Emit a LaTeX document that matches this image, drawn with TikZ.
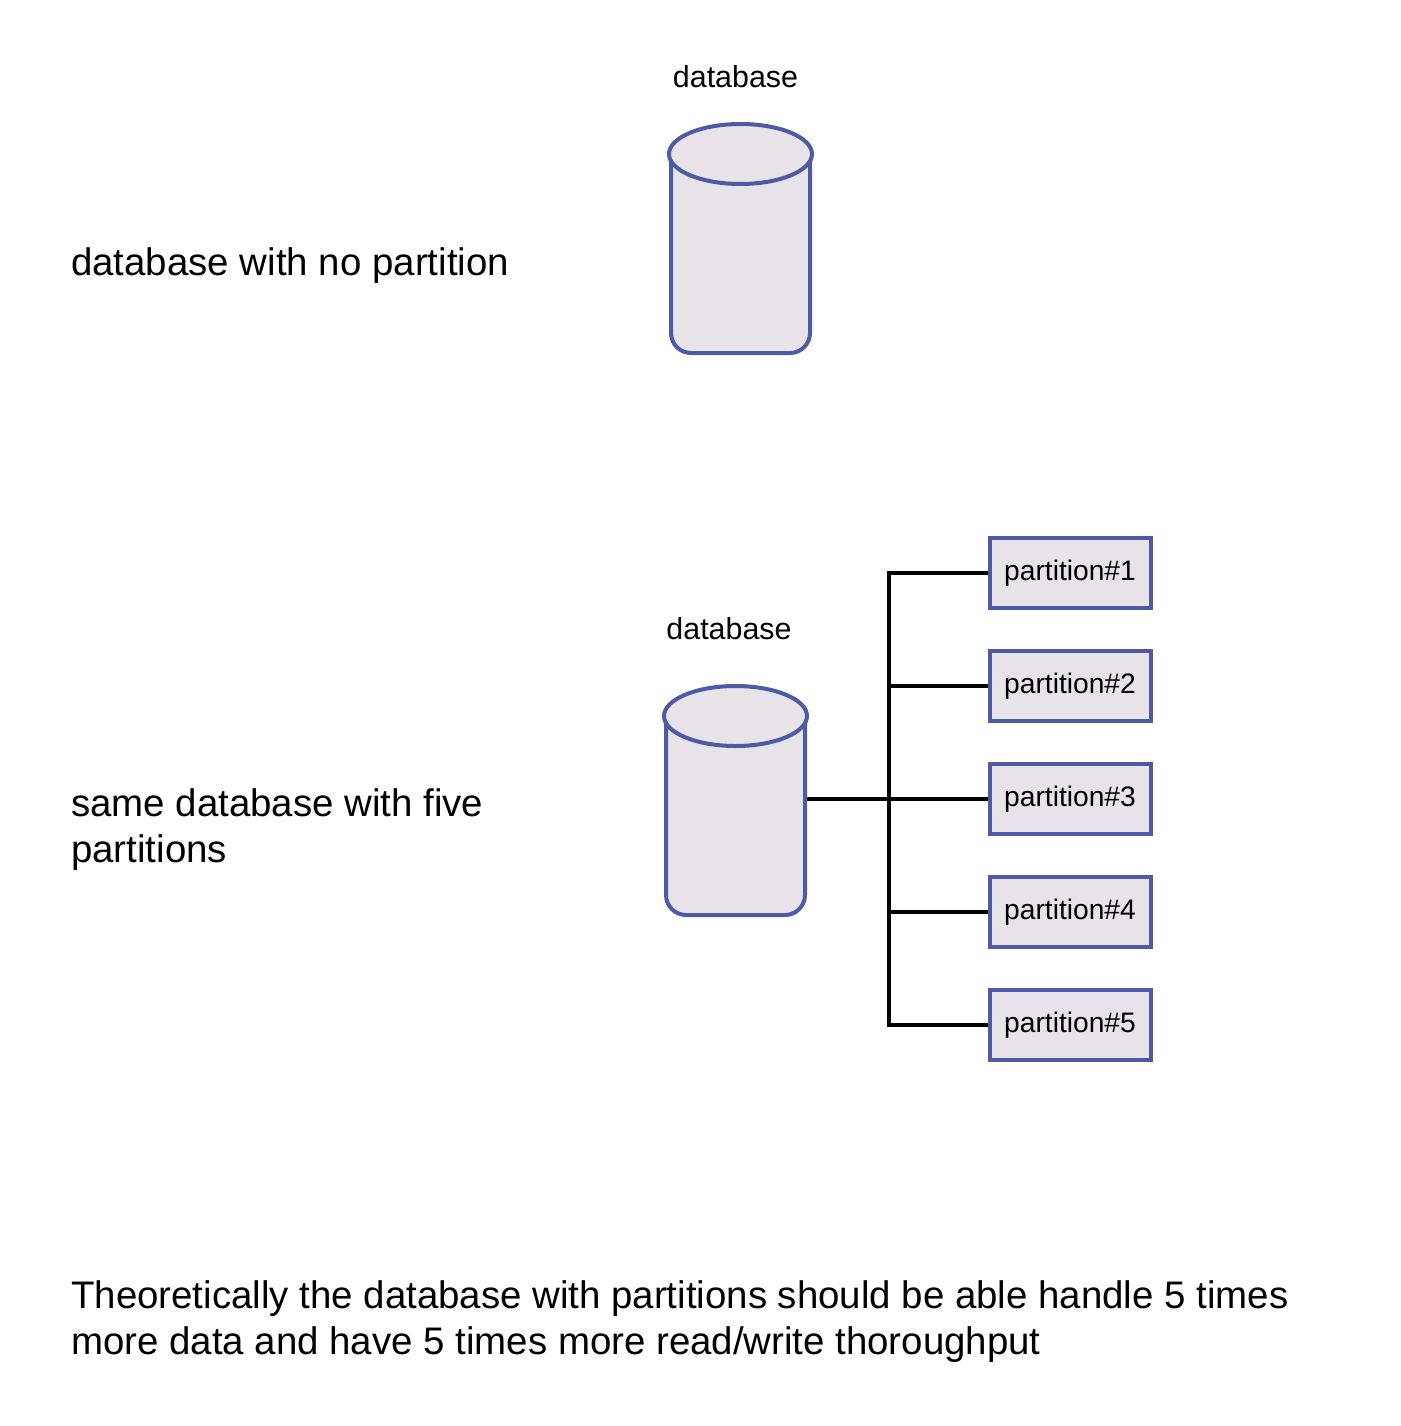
\documentclass[tikz,border=0pt]{standalone}
\usepackage{fontspec}
\setmainfont{Liberation Sans}
\definecolor{dbblue}{HTML}{4F5AA5}
\definecolor{dbfill}{HTML}{E7E3E9}
\tikzset{
  x=1pt,y=-1pt,
  bigtext/.style={anchor=base west,inner sep=0pt,font=\fontsize{38.42}{46}\selectfont},
  dblabel/.style={anchor=base,inner sep=0pt,font=\fontsize{30.4}{36}\selectfont},
  partbox/.style={draw=dbblue,fill=dbfill,line width=4pt,minimum width=161pt,minimum height=69.5pt,inner sep=0pt},
  parttext/.style={anchor=base,inner sep=0pt,font=\fontsize{28.2}{34}\selectfont},
  dbline/.style={draw=dbblue,fill=dbfill,line width=4pt},
  link/.style={draw=black,line width=4pt},
  dbbody/.style={minimum width=139pt,minimum height=198pt,inner sep=0pt},
}
\begin{document}
\begin{tikzpicture}
\useasboundingbox (0,0) rectangle (1400,1426);
% first database
\node[dbbody] (db1) at (740.5,254) {};
\draw[dbline] (671,154) -- (671,333) arc[start angle=180,end angle=90,radius=20] -- (790,353) arc[start angle=90,end angle=0,radius=20] -- (810,154) -- cycle;
\draw[dbline] (740.5,154) ellipse[x radius=71.5,y radius=30];
\node[dblabel] (db1label) at (735.5,88) {database};
\node[bigtext] (t1) at (71,275) {database with no partition};
% second database
\node[dbbody] (db2) at (735.5,816) {};
\draw[dbline] (666,716) -- (666,895) arc[start angle=180,end angle=90,radius=20] -- (785,915) arc[start angle=90,end angle=0,radius=20] -- (805,716) -- cycle;
\draw[dbline] (735.5,716) ellipse[x radius=71.5,y radius=30];
\node[dblabel] (db2label) at (729,639) {database};
\node[bigtext] (t2a) at (71,816) {same database with five};
\node[bigtext] (t2b) at (71,862) {partitions};
% partitions
\node[partbox] (p1) at (1070,573) {};
\node[partbox] (p2) at (1070,686) {};
\node[partbox] (p3) at (1070,799) {};
\node[partbox] (p4) at (1070,912) {};
\node[partbox] (p5) at (1070,1025) {};
\node[parttext] (p1t) at (1070,580) {partition\#1};
\node[parttext] (p2t) at (1070,693) {partition\#2};
\node[parttext] (p3t) at (1070,806) {partition\#3};
\node[parttext] (p4t) at (1070,919) {partition\#4};
\node[parttext] (p5t) at (1070,1032) {partition\#5};
% connectors
\coordinate (busT) at (889,573);
\coordinate (busB) at (889,1025);
\coordinate (db2E) at (807,799);
\draw[link,line cap=rect] (busT) -- (busB);
\draw[link] (busT) -- (p1.west);
\draw[link] (busT |- p2.west) -- (p2.west);
\draw[link] (db2E) -- (p3.west);
\draw[link] (busT |- p4.west) -- (p4.west);
\draw[link] (busB) -- (p5.west);
% bottom text
\node[bigtext] (t3a) at (71,1308) {Theoretically the database with partitions should be able handle 5 times};
\node[bigtext] (t3b) at (71,1354) {more data and have 5 times more read/write thoroughput};
\end{tikzpicture}
\end{document}
